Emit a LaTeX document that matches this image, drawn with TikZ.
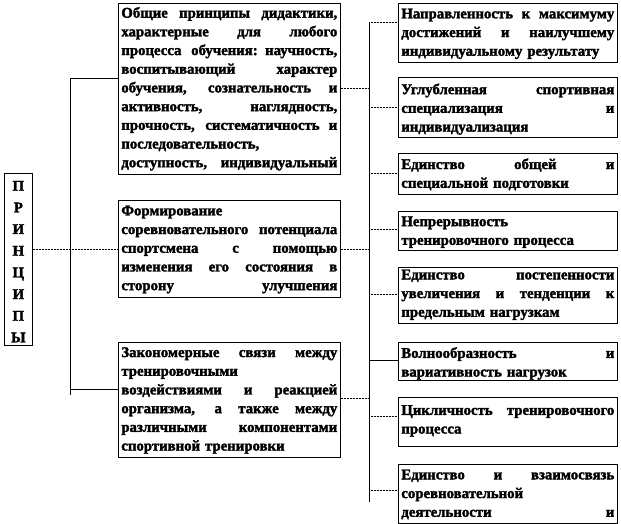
\documentclass[tikz,border=0pt]{standalone}
\usepackage{fontspec}
\setmainfont{Liberation Serif}[BoldFeatures={FakeBold=2}]
\newcommand\J[1]{\hbox to\linewidth{\spaceskip=.22em plus 1fil\relax #1}\par}
\newcommand\Lf[1]{\hbox to\linewidth{#1\hfil}\par}
\tikzset{
  bx/.style={draw, line width=0.7pt, anchor=north west, inner xsep=3pt, inner ysep=0pt,
    align=left, font=\bfseries\fontsize{14.8}{18.7}\selectfont},
  conn/.style={line width=0.7pt},
  dotc/.style={line width=0.6pt, dash pattern=on 0.6pt off 0.9pt},
}
\begin{document}
\begin{tikzpicture}[x=1pt,y=-1pt]
\fill[white] (0,0) rectangle (621,524);
\useasboundingbox (0,0) rectangle (621,524);

% left title box
\node[bx, align=center, text width=22pt, text height=17.3pt, text depth=154.7pt,
  font=\bfseries\fontsize{14.8}{21.67}\selectfont] (P) at (4,173)
  {П\\Р\\И\\Н\\Ц\\И\\П\\Ы};

% middle boxes
\node[bx, text width=216pt, text height=14.3pt, text depth=156.7pt] (b1) at (118,3) {%
\J{Общие принципы дидактики,}%
\J{характерные для любого}%
\J{процесса обучения: научность,}%
\J{воспитывающий характер}%
\J{обучения, сознательность и}%
\J{активность, наглядность,}%
\J{прочность, систематичность и}%
\Lf{последовательность,}%
\J{доступность, индивидуальный}};

\node[bx, text width=216pt, text height=15pt, text depth=82pt] (b2) at (118,200) {%
\Lf{Формирование}%
\J{соревновательного потенциала}%
\J{спортсмена с помощью}%
\J{изменения его состояния в}%
\J{сторону улучшения}};

\node[bx, text width=216pt, text height=14.7pt, text depth=100.3pt] (b3) at (118,342) {%
\J{Закономерные связи между}%
\Lf{тренировочными}%
\J{воздействиями и реакцией}%
\J{организма, а также между}%
\J{различными компонентами}%
\Lf{спортивной тренировки}};

% right boxes
\node[bx, text width=213pt, text height=15pt, text depth=44pt] (R1) at (398,3) {%
\J{Направленность к максимуму}%
\J{достижений и наилучшему}%
\Lf{индивидуальному результату}};
\node[bx, text width=213pt, text height=16.3pt, text depth=43.7pt] (R2) at (398,77.5) {%
\J{Углубленная спортивная}%
\J{специализация и}%
\Lf{индивидуализация}};
\node[bx, text width=213pt, text height=15.7pt, text depth=25.3pt] (R3) at (398,153) {%
\J{Единство общей и}%
\Lf{специальной подготовки}};
\node[bx, text width=213pt, text height=14.8pt, text depth=23.7pt] (R4) at (398,211) {%
\Lf{Непрерывность}%
\Lf{тренировочного процесса}};
\node[bx, text width=213pt, text height=12pt, text depth=44pt] (R5) at (398,267) {%
\J{Единство постепенности}%
\J{увеличения и тенденции к}%
\Lf{предельным нагрузкам}};
\node[bx, text width=213pt, text height=15.5pt, text depth=22pt] (R6) at (398,342) {%
\J{Волнообразность и}%
\Lf{вариативность нагрузок}};
\node[bx, text width=213pt, text height=17.5pt, text depth=31pt] (R7) at (398,397) {%
\J{Цикличность тренировочного}%
\Lf{процесса}};
\node[bx, text width=213pt, text height=15pt, text depth=44pt] (R8) at (398,464) {%
\J{Единство и взаимосвязь}%
\Lf{соревновательной}%
\J{деятельности и}};

% left connectors
\coordinate (lt) at (70,78);
\coordinate (lm) at (70,249);
\coordinate (lc) at (70,389);
\coordinate (lb) at (70,395);
\draw[conn] (lt) -- (lb);
\draw[conn] (lt) -- (lt -| b1.west);
\draw[conn] (lc) -- (lc -| b3.west);
\draw[dotc] (lm -| P.east) -- (lm -| b2.west);

% right connectors
\coordinate (rt) at (369,22);
\coordinate (rb) at (369,502);
\draw[conn] (rt) -- (rb);
\coordinate (m1) at (369,88);
\coordinate (m2) at (369,249);
\coordinate (m3) at (369,398);
\draw[dotc] (m1 -| b1.east) -- (m1);
\draw[dotc] (m2 -| b2.east) -- (m2);
\draw[dotc] (m3 -| b3.east) -- (m3);
\coordinate (r2) at (369,107);
\coordinate (r3) at (369,173);
\coordinate (r4) at (369,229);
\coordinate (r5) at (369,294);
\coordinate (r6) at (369,360);
\coordinate (r7) at (369,416);
\coordinate (r8) at (369,490);
\draw[dotc] (rt) -- (rt -| R1.west);
\draw[dotc] (r2) -- (r2 -| R2.west);
\draw[dotc] (r3) -- (r3 -| R3.west);
\draw[dotc] (r4) -- (r4 -| R4.west);
\draw[dotc] (r5) -- (r5 -| R5.west);
\draw[conn] (r6) -- (r6 -| R6.west);
\draw[dotc] (r7) -- (r7 -| R7.west);
\draw[dotc] (r8) -- (r8 -| R8.west);
\end{tikzpicture}
\end{document}
